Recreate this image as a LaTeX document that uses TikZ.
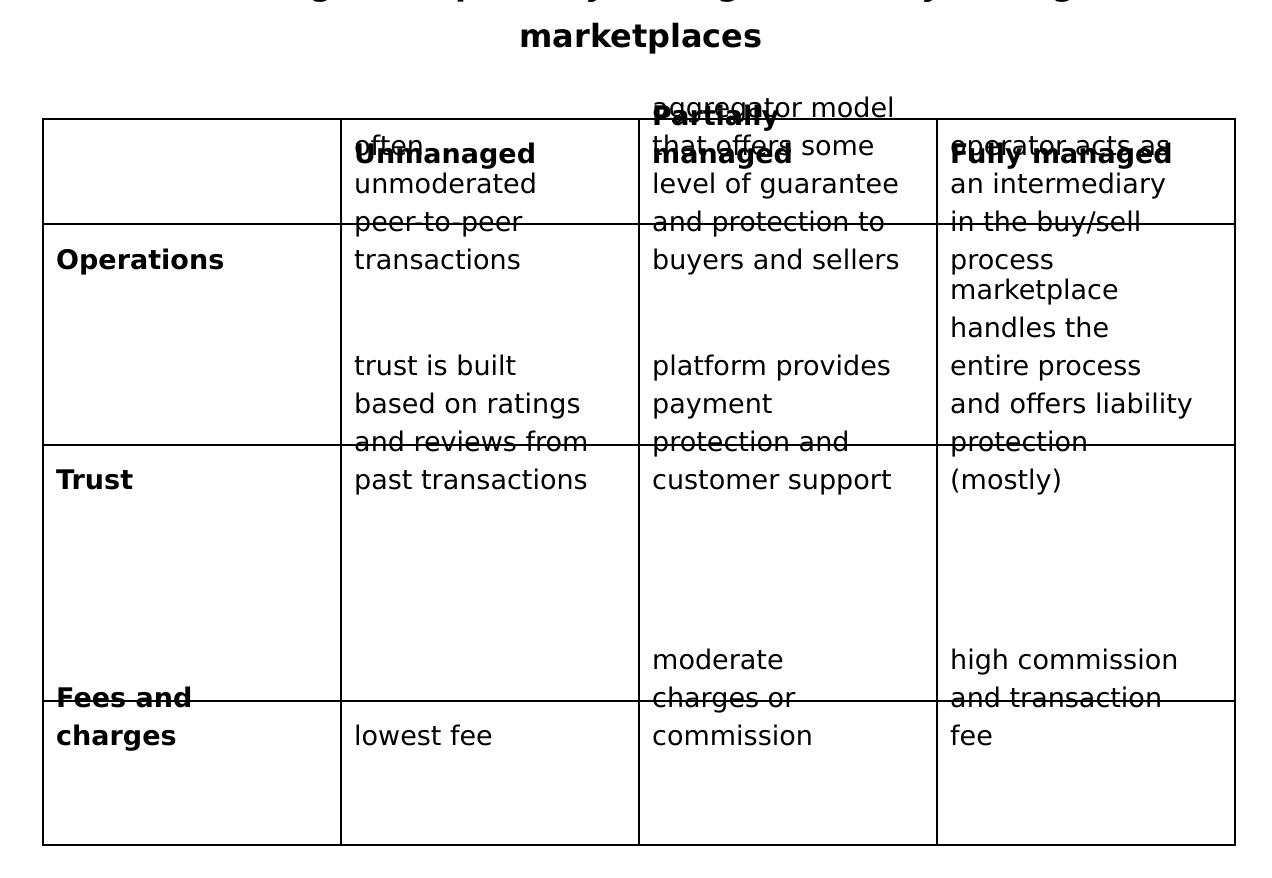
\documentclass[tikz,border=0pt]{standalone}
\usepackage{fontspec}
\setmainfont{DejaVu Sans}
\begin{document}
\begin{tikzpicture}[x=1pt,y=-1pt,
  cell/.style={anchor=base west,inner sep=0pt,align=left,font=\fontsize{27}{38}\selectfont},
  bcell/.style={cell,font=\fontsize{27}{38}\selectfont\bfseries},
  title/.style={inner sep=0pt,font=\fontsize{32}{52}\selectfont\bfseries,align=center,anchor=base}]
\useasboundingbox (0,0) rectangle (1272,878);
\node[title] (t) at (641,47) {Unmanaged vs. partially managed vs. fully managed\\marketplaces};
\draw[line width=1.5pt] (43,119) rectangle (1235,845);
\foreach \x in {341,639,937} \draw[line width=1.5pt] (\x,119) -- (\x,845);
\foreach \y in {224,445,701} \draw[line width=1.5pt] (43,\y) -- (1235,\y);
\def\cy{163}
\node[bcell] (h1) at (354,\cy) {Unmanaged};
\node[bcell] (h2) at (652,\cy) {Partially\\managed};
\node[bcell] (h3) at (950,\cy) {Fully managed};
\def\cy{269}
\node[bcell] (r1) at (56,\cy) {Operations};
\node[cell] (a1) at (354,\cy) {often\\unmoderated\\peer-to-peer\\transactions};
\node[cell] (a2) at (652,\cy) {aggregator model\\that offers some\\level of guarantee\\and protection to\\buyers and sellers};
\node[cell] (a3) at (950,\cy) {operator acts as\\an intermediary\\in the buy/sell\\process};
\def\cy{489}
\node[bcell] (r2) at (56,\cy) {Trust};
\node[cell] (b1) at (354,\cy) {trust is built\\based on ratings\\and reviews from\\past transactions};
\node[cell] (b2) at (652,\cy) {platform provides\\payment\\protection and\\customer support};
\node[cell] (b3) at (950,\cy) {marketplace\\handles the\\entire process\\and offers liability\\protection\\(mostly)};
\def\cy{745}
\node[bcell] (r3) at (56,\cy) {Fees and\\charges};
\node[cell] (c1) at (354,\cy) {lowest fee};
\node[cell] (c2) at (652,\cy) {moderate\\charges or\\commission};
\node[cell] (c3) at (950,\cy) {high commission\\and transaction\\fee};
\end{tikzpicture}
\end{document}
